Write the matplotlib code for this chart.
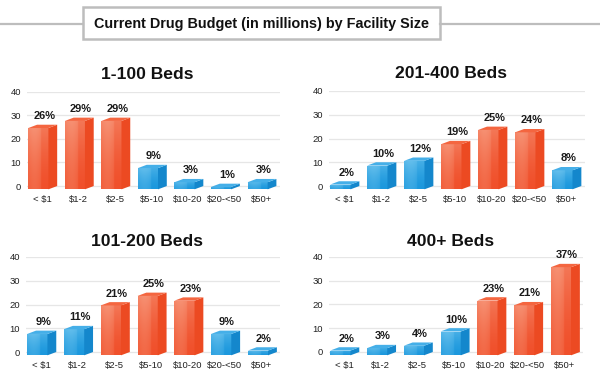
import numpy as np
import matplotlib
matplotlib.use("Agg")
import matplotlib.pyplot as plt
from matplotlib.patches import Rectangle, Polygon
from matplotlib.lines import Line2D
from matplotlib.colors import to_rgb

plt.rcParams['font.family'] = ['Liberation Sans', 'DejaVu Sans']

title = "Current Drug Budget (in millions) by Facility Size"
categories = ["< $1", "$1-2", "$2-5", "$5-10", "$10-20", "$20-<50", "$50+"]
panel_titles = ["1-100 Beds", "201-400 Beds", "101-200 Beds", "400+ Beds"]
beds_1_100 = [26, 29, 29, 9, 3, 1, 3]
beds_201_400 = [2, 10, 12, 19, 25, 24, 8]
beds_101_200 = [9, 11, 21, 25, 23, 9, 2]
beds_400_plus = [2, 3, 4, 10, 23, 21, 37]
yticks = [0, 10, 20, 30, 40]

panels = [beds_1_100, beds_201_400, beds_101_200, beds_400_plus]

W, H = 600, 386
fig = plt.figure(figsize=(W / 100, H / 100), dpi=100)

# axes rectangles in pixels: (left, right, y_top40, y_bottom)
ax_px = [
    (27.4, 279.5, 91.7, 189.8),
    (329.2, 584.5, 91.0, 189.8),
    (26.3, 280.0, 257.0, 355.8),
    (329.3, 583.0, 256.7, 355.8),
]

ORANGE = dict(front="#F0502B", light="#F7977A", side="#EC4A22", top="#F46640")
BLUE = dict(front="#1C98DD", light="#6CC3EE", side="#1487CC", top="#45AFE8")

FW = 0.55   # front width
FOFF = -0.375
DX = 0.24
DY = 1.4

tick_fs = 6.8
pct_fs = 7.9


def front_image(c):
    base = np.array(to_rgb(c["front"]))
    light = np.array(to_rgb(c["light"]))
    ny, nx = 60, 40
    yy = np.linspace(1, 0, ny)[:, None]
    xx = np.linspace(0, 1, nx)[None, :]
    hx = np.where(xx < 0.62, 0.35 + 0.25 * np.sin(np.pi * xx / 0.62), 0.0)
    vy = 0.55 * yy ** 1.5
    t = np.clip(hx * 0.6 + vy, 0, 1)[..., None]
    return base * (1 - t) + light * t


for k, (vals, ptitle) in enumerate(zip(panels, panel_titles)):
    l, r, yt, yb = ax_px[k]
    ax = fig.add_axes([l / W, (H - yb) / H, (r - l) / W, (yb - yt) / H])
    for s in ax.spines.values():
        s.set_visible(False)
    for yv in yticks:
        ax.axhline(yv, color="#E6E6E6", lw=0.9, zorder=0)
    ax.set_yticks(yticks)
    ax.set_yticklabels([str(t) for t in yticks], fontsize=tick_fs, color="#222222")
    ax.set_xticks(range(len(categories)))
    ax.set_xticklabels(categories, fontsize=tick_fs, color="#222222")
    ax.tick_params(axis="y", length=0, pad=4.5)
    ax.tick_params(axis="x", length=0, pad=3.5)
    ax.set_facecolor("none")

    x = np.arange(len(vals))
    heights = np.array(vals, dtype=float)
    bars = ax.bar(x + FOFF, heights, width=FW, bottom=-DY, align="edge",
                  color="none", edgecolor="none", zorder=3)
    for xi, v, b in zip(x, heights, bars):
        c = ORANGE if v >= 15 else BLUE
        x0 = xi + FOFF
        x1 = x0 + FW
        im = ax.imshow(front_image(c), extent=(x0, x1, -DY, v - DY),
                       aspect="auto", zorder=3, interpolation="bilinear")
        im.set_clip_path(b)
        side = Polygon([(x1, -DY), (x1 + DX, 0), (x1 + DX, v), (x1, v - DY)],
                       closed=True, facecolor=c["side"], edgecolor="none", zorder=3)
        top = Polygon([(x0, v - DY), (x1, v - DY), (x1 + DX, v), (x0 + DX, v)],
                      closed=True, facecolor=c["top"], edgecolor="none", zorder=4)
        ax.add_patch(side)
        ax.add_patch(top)
        ax.text(xi + 0.06, v + 3.6, f"{int(v)}%", ha="center", va="center",
                fontsize=pct_fs, fontweight="bold", color="#1A1A1A", zorder=5)
    ax.set_xlim(-0.4, 6.5)
    ax.set_ylim(-1.6, 40)

    ty = (yt - (17.5 if k < 2 else 15.5))
    tx = (l + r) / 2 - 6
    fig.text(tx / W, (H - ty) / H, ptitle, ha="center", va="center",
             fontsize=12.6, fontweight="bold", color="#111111")

# header line and box
ly = (H - 24) / H
fig.add_artist(Line2D([0, 83 / W], [ly, ly], color="#BDBDBD", lw=1.6))
fig.add_artist(Line2D([440 / W, 1], [ly, ly], color="#BDBDBD", lw=1.6))
fig.add_artist(Rectangle((83 / W, (H - 39) / H), 357 / W, 32 / H,
                         facecolor="white", edgecolor="#BDBDBD", lw=1.8))
fig.text(261 / W, (H - 24) / H, title, ha="center", va="center",
         fontsize=10.4, fontweight="bold", color="#111111")

fig.savefig("out.png", dpi=100, facecolor="white")
